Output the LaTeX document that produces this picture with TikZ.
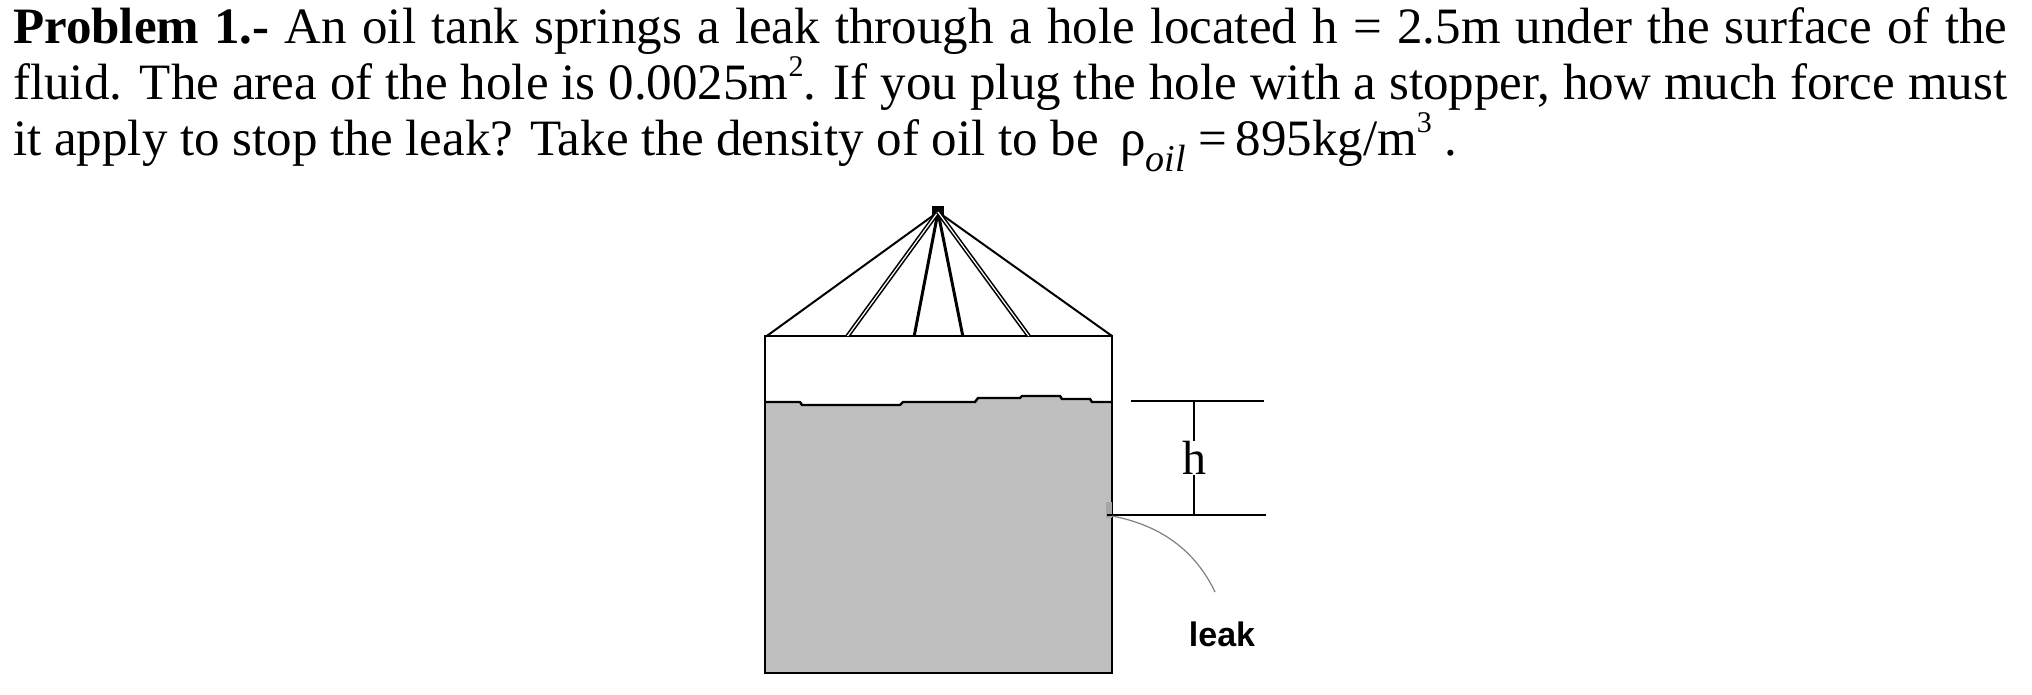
\documentclass[tikz,border=0pt]{standalone}
\usepackage{fontspec}
\setmainfont{Liberation Serif}
\newfontfamily\labelfont{Liberation Sans}
\newcommand{\mysup}[1]{\raisebox{0.45em}{\fontsize{30}{34}\selectfont #1}}
\begin{document}
\begin{tikzpicture}[x=1pt,y=-1pt,
  txt/.style={anchor=base west,inner sep=0pt,font=\fontsize{51}{60}\selectfont},
  tank/.style={draw=black,line width=2.6pt}]
\useasboundingbox (0,0) rectangle (2032,694);
\node[txt] (l1) at (13,43) {\hbox to 1994pt{\textbf{Problem 1.-} An oil tank springs a leak through a hole located h = 2.5m under the surface of the}};
\node[txt] (l2) at (13,99) {\hbox to 1994pt{fluid. The area of the hole is 0.0025m\mysup{2}. If you plug the hole with a stopper, how much force must}};
\node[txt] (l3) at (13,155) {it apply to stop the leak? Take the density of oil to be \,ρ\raisebox{-0.32em}{\fontsize{38}{40}\selectfont\textit{oil}}\ =\,895kg/m\mysup{3}\ .};
% tank
\fill[gray!50] (765,402) -- (800,402) -- (802,405) -- (900,405) -- (903,402) -- (975,402) -- (978,398) -- (1020,398) -- (1022,396) -- (1060,396) -- (1062,399) -- (1090,399) -- (1092,402) -- (1112,402) -- (1112,673) -- (765,673) -- cycle;
\draw[line width=2.4pt] (765,402) -- (800,402) -- (802,405) -- (900,405) -- (903,402) -- (975,402) -- (978,398) -- (1020,398) -- (1022,396) -- (1060,396) -- (1062,399) -- (1090,399) -- (1092,402) -- (1112,402);
\draw[tank] (765,336) rectangle (1112,673);
% roof
\coordinate (apex) at (938,212);
\fill (932,206) rectangle (944,218);
\foreach \f in {0.005,1.0}{\draw[line width=2pt] (apex) -- ({765+347*\f},336);}
\foreach \f in {0.43,0.57}{\draw[line width=3pt] (apex) -- ({765+347*\f},336);}
\foreach \f in {0.238,0.76}{\draw[line width=4.4pt] (apex) -- ({765+347*\f},336); \draw[white,line width=1.2pt] (apex) -- ({765+347*\f},336);}
% hole
\fill[gray!70] (1106,502) rectangle (1112,518);
% dimension
\draw[line width=2.4pt] (1131,401) -- (1264,401);
\draw[line width=2.4pt] (1107,515) -- (1266,515);
\node[inner sep=0pt,font=\fontsize{48}{50}\selectfont] (h) at (1194,458) {h};
\draw[line width=2.2pt] (1194,401) -- (h.north);
\draw[line width=2.2pt] (h.south) -- (1194,515);
% leak
\node[inner sep=0pt,font=\labelfont\bfseries\fontsize{34}{40}\selectfont] (leak) at (1222,634) {leak};
\coordinate (hole) at (1112,516);
\draw[gray,line width=1.2pt] (hole) .. controls (1160,525) and (1195,550) .. (1215,592);
\end{tikzpicture}
\end{document}
